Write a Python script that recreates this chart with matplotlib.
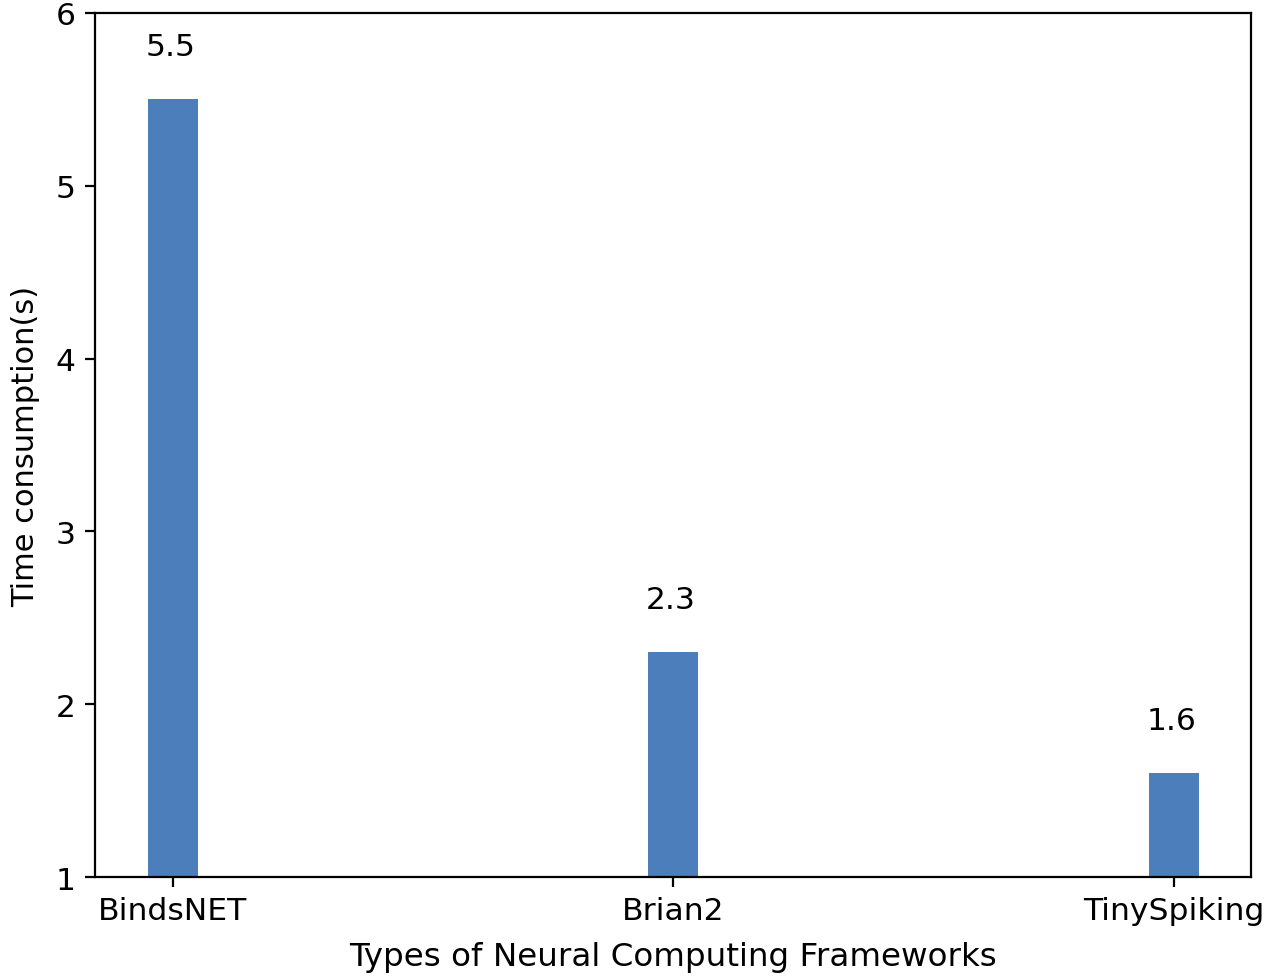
import matplotlib
matplotlib.use("Agg")
import matplotlib.pyplot as plt

frameworks = ["BindsNET", "Brian2", "TinySpiking"]
times = [5.5, 2.3, 1.6]

plt.rcParams["font.size"] = 11.3
fig = plt.figure(figsize=(6.34, 4.89), dpi=200)
ax = fig.add_axes([0.0749, 0.1022, 0.912, 0.8835])
x = list(range(len(frameworks)))
ax.bar(x, times, width=0.1, color="#4d7ebc")
for xi, v in zip(x, times):
    ax.text(xi - 0.005, v + 0.22, f"{v}", ha="center", va="bottom", fontsize=11.3)
ax.set_xticks(x)
ax.set_xticklabels(frameworks)
ax.set_ylim(1, 6)
ax.tick_params(labelsize=11.3)
ax.set_xlabel("Types of Neural Computing Frameworks", fontsize=11.7, labelpad=5.5)
ax.set_ylabel("Time consumption(s)", fontsize=11.0, labelpad=5.5)
fig.savefig("out.png", dpi=200)
